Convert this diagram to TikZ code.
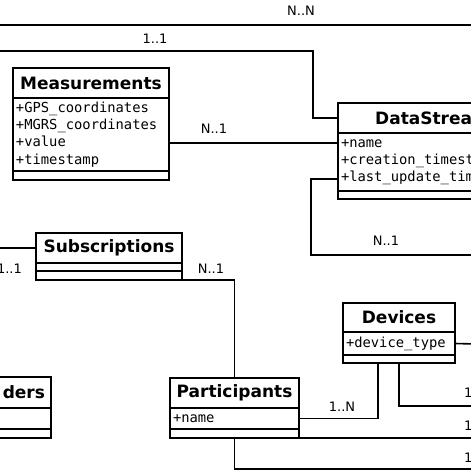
\documentclass[tikz,border=0pt]{standalone}
\usepackage{fontspec}
\setmainfont{DejaVu Sans}
\setmonofont{DejaVu Sans Mono}
\usetikzlibrary{positioning}

\newcommand\clsfont{\bfseries\fontsize{17}{20}\selectfont}
\newcommand\attfont{\ttfamily\fontsize{13.8}{17.3}\selectfont}
\newcommand\mulfont{\fontsize{13}{15}\selectfont}

\begin{document}
\begin{tikzpicture}[
    x=1pt, y=-1pt,
    every node/.style={inner sep=0pt, outer sep=0pt},
    ctitle/.style={draw, line width=2pt, anchor=north west, font=\clsfont,
                   inner xsep=6pt, align=center, minimum height=30pt},
    cattr/.style ={draw, line width=2pt, font=\attfont, inner xsep=3pt,
                   align=left},
    cmeth/.style ={draw, line width=2pt, minimum height=8pt},
    assoc/.style ={line width=1.6pt},
    mult/.style  ={font=\mulfont}
  ]
  \useasboundingbox (0,0) rectangle (471,471);
  \clip (0,0) rectangle (471,471);

  % classes
  \node[ctitle, text width=144pt] (meas-t) at (13,68) {Measurements};
  \node[cattr, text width=150pt, minimum height=73pt, below=0pt of meas-t] (meas-a)
       {+GPS\_coordinates\\+MGRS\_coordinates\\+value\\+timestamp};
  \node[cmeth, minimum width=156pt, minimum height=9pt, below=0pt of meas-a] (meas-m) {};

  \node[ctitle, text width=177pt] (dstr-t) at (338,103) {DataStream};
  \node[cattr, text width=183pt, minimum height=58pt, below=0pt of dstr-t] (dstr-a)
       {+name\\+creation\_timestamp\\+last\_update\_timestamp};
  \node[cmeth, minimum width=189pt, below=0pt of dstr-a] (dstr-m) {};

  \node[ctitle, text width=134pt] (subs-t) at (36,233) {Subscriptions};
  \node[cattr, text width=140pt, minimum height=8pt, below=0pt of subs-t] (subs-a) {};
  \node[cmeth, minimum width=146pt, minimum height=9pt, below=0pt of subs-a] (subs-m) {};

  \node[ctitle, text width=100pt, minimum height=29pt] (dev-t) at (343,303) {Devices};
  \node[cattr, text width=106pt, minimum height=23pt, below=0pt of dev-t] (dev-a)
       {+device\_type};
  \node[cmeth, minimum width=112pt, below=0pt of dev-a] (dev-m) {};

  \node[ctitle, text width=117pt] (part-t) at (170,378) {Participants};
  \node[cattr, text width=123pt, minimum height=21pt, below=0pt of part-t] (part-a) {+name};
  \node[cmeth, minimum width=129pt, minimum height=9pt, below=0pt of part-a] (part-m) {};

  \node[ctitle, text width=88pt, align=right, minimum height=31pt] (read-t) at (-49,377) {ders};
  \node[cattr, text width=94pt, minimum height=21pt, below=0pt of read-t] (read-a) {};
  \node[cmeth, minimum width=100pt, minimum height=9pt, below=0pt of read-a] (read-m) {};

  % ends leaving the picture
  \coordinate (oA) at (-5,25);
  \coordinate (oB) at (476,25);
  \coordinate (oC) at (-5,51);
  \coordinate (oD) at (476,255);
  \coordinate (oE) at (-5,248);
  \coordinate (oF) at (476,344);
  \coordinate (oG) at (476,406);
  \coordinate (oH) at (476,438);
  \coordinate (oI) at (476,469);
  \coordinate (dname) at ([yshift=-10pt]dstr-a.north west);
  \coordinate (dlast) at ([yshift=-46pt]dstr-a.north west);

  % associations
  \draw[assoc] (oA) -- (oB);
  \draw[assoc] (oC) -| ([xshift=-25pt]dstr-t.west) -- (dstr-t.west);
  \draw[assoc] (meas-a.east |- dname) -- (dname);
  \draw[assoc] (dlast) -- ++(-27,0) |- (oD);
  \draw[assoc] (subs-t.west) -- (oE);
  \draw[assoc] (subs-m.south east) -| (part-t.north);
  \draw[assoc] (dev-a.east) -- (oF);
  \draw[assoc] (part-a.east) -| ([xshift=35pt]dev-m.south west);
  \draw[assoc] ([xshift=56pt]dev-m.south west) |- (oG);
  \draw[assoc] (part-m.south east) -- (oH);
  \draw[assoc] (part-m.south) |- (oI);

  % multiplicities
  \node[mult] (m1) at (301,11)  {N..N};
  \node[mult] (m2) at (155,39)  {1..1};
  \node[mult] (m3) at (214,129) {N..1};
  \node[mult] (m4) at (386,241) {N..1};
  \node[mult] (m5) at (9.5,269) {1..1};
  \node[mult] (m6) at (211,269) {N..1};
  \node[mult] (m7) at (342,407) {1..N};
  \node[mult, anchor=west] (m8) at (464,393) {1};
  \node[mult, anchor=west] (m9) at (464,426) {1};
  \node[mult, anchor=west] (m10) at (464,458) {1};
\end{tikzpicture}
\end{document}
